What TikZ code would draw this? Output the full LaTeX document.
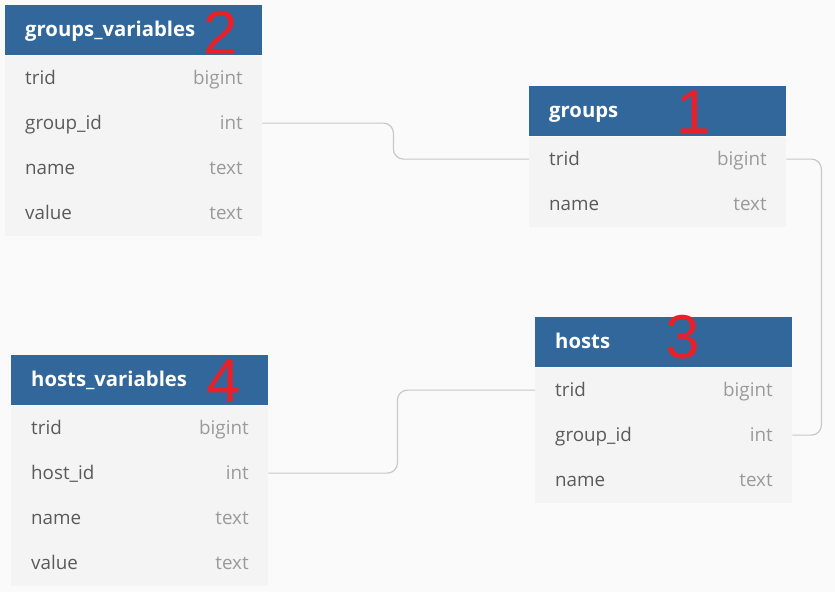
\documentclass[tikz,border=0pt]{standalone}
\usepackage{fontspec,tikz,xcolor}
\setmainfont{Open Sans}
\newfontfamily\digitfont{Liberation Sans}
\usetikzlibrary{matrix,positioning}
\definecolor{headblue}{HTML}{31679A}
\definecolor{bodygray}{HTML}{F4F4F4}
\definecolor{pagegray}{HTML}{FAFAFA}
\definecolor{fieldgray}{HTML}{5A5A5A}
\definecolor{typegray}{HTML}{9A9A9A}
\definecolor{linkgray}{HTML}{C8C8C8}
\definecolor{markred}{HTML}{E8202A}
\tikzset{
    tblhead/.style={anchor=north west, fill=headblue, text=white, font=\fontsize{20.3}{22}\selectfont\bfseries,
        text width=217pt, inner xsep=20pt, inner ysep=0pt, minimum height=50pt, align=left, text height=16pt, text depth=4pt},
    tblbody/.style={matrix of nodes, fill=bodygray, inner sep=0pt, row sep=0pt, column sep=0pt,
        nodes={minimum height=45pt, text height=16pt, text depth=4pt, inner ysep=0pt, font=\fontsize{18.8}{21}\selectfont},
        column 1/.style={nodes={text width=120pt, inner xsep=20pt, align=left, text=fieldgray}},
        column 2/.style={nodes={text width=58pt, inner xsep=19.5pt, align=right, text=typegray}}},
    marknum/.style={anchor=base, text=markred, inner sep=0pt, font=\digitfont\fontsize{62}{62}\selectfont},
    link/.style={draw=linkgray, line width=1.2pt, rounded corners=10pt}
}

\begin{document}
\begin{tikzpicture}[x=1pt,y=-1pt]
        \fill[pagegray] (0,0) rectangle (835,592);
        \node[tblhead] (gvh) at (5,5) {groups\_variables};
        \matrix (gv) [tblbody, below=0pt of gvh.south west, anchor=north west]
        {
            trid      & bigint \\
            group\_id & int    \\
            name      & text   \\
            value     & text   \\
        };
        \node[tblhead] (gh) at (529,86) {groups};
        \matrix (g) [tblbody, below=0pt of gh.south west, anchor=north west]
        {
            trid & bigint \\
            name & text   \\
        };
        \node[tblhead] (hh) at (535,317) {hosts};
        \matrix (h) [tblbody, below=0pt of hh.south west, anchor=north west]
        {
            trid      & bigint \\
            group\_id & int    \\
            name      & text   \\
        };
        \node[tblhead] (hvh) at (11,355) {hosts\_variables};
        \matrix (hv) [tblbody, below=0pt of hvh.south west, anchor=north west]
        {
            trid     & bigint \\
            host\_id & int    \\
            name     & text   \\
            value    & text   \\
        };
        \node[marknum] (n1) at (694,133) {1};
        \node[marknum] (n2) at (221,54) {2};
        \node[marknum] (n3) at (683,358) {3};
        \node[marknum] (n4) at (224,402) {4};
        \draw[link] (gv-2-2.east) -- ++(131,0) |- (g-1-1.west);
        \draw[link] (g-1-2.east) -- ++(35,0) |- (h-2-2.east);
        \draw[link] (hv-2-2.east) -- ++(129,0) |- (h-1-1.west);
    \end{tikzpicture}
\end{document}
